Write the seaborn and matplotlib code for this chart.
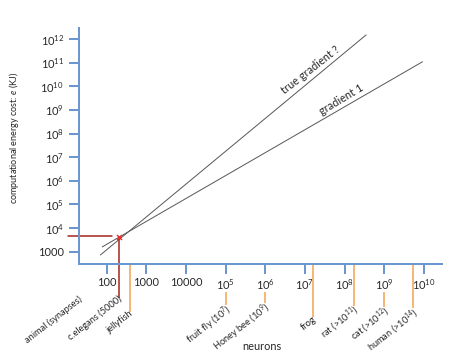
import matplotlib
matplotlib.use('Agg')
import matplotlib.pyplot as plt
import seaborn as sns

# ---- data ----
x_ticks = [1e2, 1e3, 1e4, 1e5, 1e6, 1e7, 1e8, 1e9, 1e10]
x_tick_labels = ['100', '1000', '10000', '$10^{5}$', '$10^{6}$', '$10^{7}$',
                 '$10^{8}$', '$10^{9}$', '$10^{10}$']
y_ticks = [1e3, 1e4, 1e5, 1e6, 1e7, 1e8, 1e9, 1e10, 1e11, 1e12]
y_tick_labels = ['1000', '$10^{4}$', '$10^{5}$', '$10^{6}$', '$10^{7}$',
                 '$10^{8}$', '$10^{9}$', '$10^{10}$', '$10^{11}$', '$10^{12}$']

grad1_x = [77, 9.3e9]
grad1_y = [1600, 1.1e11]
true_x = [69, 3.5e8]
true_y = [725, 1.5e12]

# c.elegans point (neurons, energy)
celegans_x = 200
celegans_y = 4500

animals = ['jellyfish', 'fruit fly (10$^{7}$)', 'Honey bee (10$^{9}$)', 'frog',
           'rat (>10$^{11}$)', 'cat (>10$^{12}$)', 'human (>10$^{14}$)']
animal_neurons = [380, 1e5, 9.6e5, 1.6e7, 1.7e8, 1e9, 5.5e9]

# ---- style ----
sns.set_theme(style='ticks')
plt.rcParams['font.family'] = ['Lato', 'DejaVu Sans']
plt.rcParams['mathtext.fontset'] = 'custom'
plt.rcParams['mathtext.rm'] = 'Lato'
plt.rcParams['mathtext.it'] = 'Lato:italic'
plt.rcParams['mathtext.bf'] = 'Lato:bold'

blue = '#6a97cf'
orange = '#f4a04a'
darkred = '#a3201c'
grey = '#5a5a5a'
txt = '#262626'

W, H = 474, 355
fig = plt.figure(figsize=(W / 72, H / 72), dpi=72)
ax_l, ax_r, ax_t, ax_b = 79, 442, 28, 264
ax = fig.add_axes([ax_l / W, 1 - ax_b / H, (ax_r - ax_l) / W, (ax_b - ax_t) / H])
ax_h = ax_b - ax_t

sns.lineplot(x=grad1_x, y=grad1_y, ax=ax, color=grey, lw=1)
sns.lineplot(x=true_x, y=true_y, ax=ax, color=grey, lw=1)

ax.set_xscale('log')
ax.set_yscale('log')
ax.set_xlim(10 ** 1.30, 10 ** 10.46)
ax.set_ylim(10 ** 2.48, 10 ** 12.47)

ax.set_xticks(x_ticks)
ax.set_xticklabels(x_tick_labels)
ax.set_yticks(y_ticks)
ax.set_yticklabels(y_tick_labels)
ax.minorticks_off()
ax.tick_params(axis='both', colors=blue, width=2, length=10, labelsize=11,
               labelcolor=txt)
ax.tick_params(axis='x', pad=3)
ax.tick_params(axis='y', pad=5)
sns.despine(ax=ax)
for s in ['left', 'bottom']:
    ax.spines[s].set_color(blue)
    ax.spines[s].set_linewidth(2)

# gradient labels
ax.text(8.1e7, 2.7e9, 'gradient 1', rotation=31, ha='center', va='center',
        fontsize=11, color=txt)
ax.text(1.4e7, 5e10, 'true gradient ?', rotation=38, ha='center', va='center',
        fontsize=11, color=txt)

# c.elegans marker and its guide lines
ax.plot([10.5, 138], [celegans_y, celegans_y], color=darkred, lw=1.5, clip_on=False)
ax.vlines(celegans_x, -34 / ax_h, 0, transform=ax.get_xaxis_transform(),
          color=darkred, lw=1.5, clip_on=False)
ax.plot([celegans_x, celegans_x], [ax.get_ylim()[0], celegans_y * 0.93],
        color=darkred, lw=1.5)
ax.plot(celegans_x, celegans_y * 0.93, marker='x', color='#e2302a', ms=5, mew=1.5)

# orange marks below the axis (top, bottom in px below the axis line)
mark_span = [(0, 48), (27.7, 41), (27.7, 38.7), (0, 53.3), (0, 42), (27.7, 42.7),
             (0, 44.3)]
for xv, (t, b) in zip(animal_neurons, mark_span):
    ax.vlines(xv, -b / ax_h, -t / ax_h, transform=ax.get_xaxis_transform(),
              color=orange, lw=1.5, clip_on=False)

# rotated labels, anchored at their top-right corner
label_names = ['animal (synapses)', 'c.elegans (5000)'] + animals
label_x = [20, celegans_x] + animal_neurons
label_bottom = [33, 33] + [b for _, b in mark_span]
for name, xv, b in zip(label_names, label_x, label_bottom):
    ax.annotate(name, xy=(xv, 0), xycoords=ax.get_xaxis_transform(),
                xytext=(-1, -(b - 3)), textcoords='offset points',
                rotation=38, rotation_mode='anchor', ha='right', va='top',
                fontsize=9.3, color=txt, annotation_clip=False)

fig.text(14 / W, 1 - 137.5 / H, 'computational energy cost: $\\mathit{e}$ (KJ)',
         rotation=90, ha='center', va='center', fontsize=9, color=txt)
fig.text(261.7 / W, 1 - 346 / H, 'neurons', ha='center', va='center',
         fontsize=11, color=txt)

fig.savefig('out.png', dpi=72)
